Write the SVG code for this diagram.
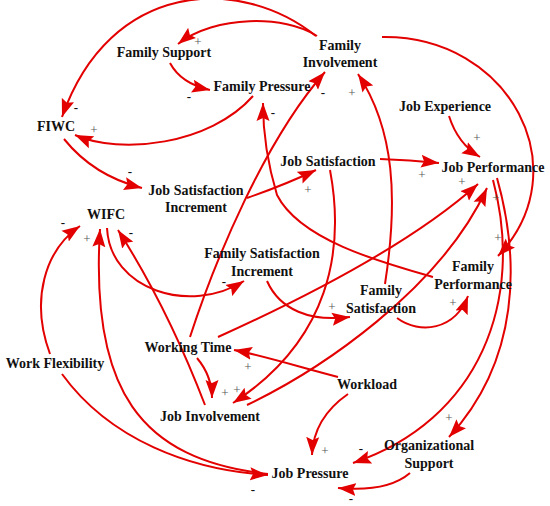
<svg xmlns="http://www.w3.org/2000/svg" width="550" height="506" viewBox="0 0 550 506">
<defs>
<marker id="ah" markerUnits="userSpaceOnUse" markerWidth="19" markerHeight="14" refX="18" refY="7" orient="auto">
<path d="M0,0.5 L18,7 L0,13.5 L3,7 z" fill="#e30000"/>
</marker>
<style>
.e{fill:none;stroke:#e30000;stroke-width:2;marker-end:url(#ah)}
.n{font-family:"Liberation Serif","Times New Roman",serif;font-weight:bold;font-size:14px;fill:#111;text-anchor:middle}
.p{font-family:"Liberation Serif","Times New Roman",serif;font-size:13px;fill:#555;text-anchor:middle}
.m{font-family:"Liberation Serif","Times New Roman",serif;font-size:13px;font-weight:bold;fill:#111;text-anchor:middle}
</style>
</defs>
<rect width="550" height="506" fill="#fff"/>
<g id="connectors">
<path class="e" d="M317,36 C285,15 215,15 178,44"/>
<path class="e" d="M316,36 C240,-25 110,-20 62,117"/>
<path class="e" d="M170,63 C178,78 192,86 210,90"/>
<path class="e" d="M253,96 C210,145 120,155 75,135"/>
<path class="e" d="M64,139 C85,165 110,180 142,188"/>
<path class="e" d="M247,198 C270,190 295,180 316,170"/>
<path class="e" d="M380,159 Q410,160 439,163"/>
<path class="e" d="M449,116 C455,135 465,148 480,157"/>
<path class="e" d="M382,37 C510,35 580,170 498,256"/>
<path class="e" d="M385,284 C398,200 395,130 358,74"/>
<path class="e" d="M433,277 C380,262 300,240 277,195 C268,165 263,135 263,103"/>
<path class="e" d="M190,337 C215,260 265,140 325,72"/>
<path class="e" d="M197,358 C207,370 212,385 212,398"/>
<path class="e" d="M338,377 C300,367 260,355 234,350"/>
<path class="e" d="M330,170 C345,250 330,340 233,403"/>
<path class="e" d="M247,405 C320,370 440,290 487,188"/>
<path class="e" d="M218,337 C300,300 410,245 478,184"/>
<path class="e" d="M107,228 C110,290 190,315 244,281"/>
<path class="e" d="M205,405 C180,340 150,280 118,230"/>
<path class="e" d="M50,354 C30,300 45,250 80,226"/>
<path class="e" d="M268,474 C140,460 90,390 100,229"/>
<path class="e" d="M62,374 C110,440 190,470 268,475"/>
<path class="e" d="M348,394 C325,410 313,430 312,455"/>
<path class="e" d="M410,473 C390,490 360,490 338,488"/>
<path class="e" d="M493,180 C525,300 480,420 353,463"/>
<path class="e" d="M497,178 C520,260 520,360 449,437"/>
<path class="e" d="M267,281 C280,310 310,322 350,317"/>
<path class="e" d="M397,318 C420,335 455,330 468,296"/>
</g>
<g id="polarities">
<text class="p" x="198" y="46">+</text>
<text class="m" x="76" y="112">-</text>
<text class="m" x="189" y="101">-</text>
<text class="p" x="94" y="134">+</text>
<text class="m" x="130" y="176">-</text>
<text class="p" x="308" y="194">+</text>
<text class="p" x="422" y="179">+</text>
<text class="p" x="477" y="142">+</text>
<text class="p" x="462" y="186">+</text>
<text class="p" x="496" y="202">+</text>
<text class="p" x="498" y="242">+</text>
<text class="m" x="323" y="97">-</text>
<text class="p" x="352" y="97">+</text>
<text class="m" x="273" y="117">-</text>
<text class="m" x="63" y="227">-</text>
<text class="p" x="87" y="243">+</text>
<text class="m" x="131" y="237">-</text>
<text class="m" x="224" y="286">-</text>
<text class="p" x="332" y="311">+</text>
<text class="p" x="453" y="307">+</text>
<text class="p" x="248" y="371">+</text>
<text class="p" x="225" y="397">+</text>
<text class="p" x="237" y="394">+</text>
<text class="p" x="325" y="455">+</text>
<text class="m" x="361" y="453">-</text>
<text class="p" x="449" y="422">+</text>
<text class="m" x="253" y="494">-</text>
<text class="m" x="351" y="503">-</text>
</g>
<g id="family-support"><text class="n" x="164" y="57">Family Support</text></g>
<g id="family-involvement"><text class="n" x="340" y="50">Family</text><text class="n" x="340" y="67">Involvement</text></g>
<g id="family-pressure"><text class="n" x="262" y="91">Family Pressure</text></g>
<g id="fiwc"><text class="n" x="56" y="131">FIWC</text></g>
<g id="job-experience"><text class="n" x="445" y="111">Job Experience</text></g>
<g id="job-satisfaction"><text class="n" x="328" y="166">Job Satisfaction</text></g>
<g id="job-performance"><text class="n" x="493" y="172">Job Performance</text></g>
<g id="job-satisfaction-increment"><text class="n" x="196" y="195">Job Satisfaction</text><text class="n" x="196" y="212">Increment</text></g>
<g id="wifc"><text class="n" x="106" y="219">WIFC</text></g>
<g id="family-satisfaction-increment"><text class="n" x="262" y="258">Family Satisfaction</text><text class="n" x="262" y="276">Increment</text></g>
<g id="family-satisfaction"><text class="n" x="381" y="295">Family</text><text class="n" x="381" y="313">Satisfaction</text></g>
<g id="family-performance"><text class="n" x="473" y="271">Family</text><text class="n" x="473" y="289">Performance</text></g>
<g id="working-time"><text class="n" x="188" y="352">Working Time</text></g>
<g id="work-flexibility"><text class="n" x="55" y="368">Work Flexibility</text></g>
<g id="workload"><text class="n" x="367" y="389">Workload</text></g>
<g id="job-involvement"><text class="n" x="210" y="421">Job Involvement</text></g>
<g id="organizational-support"><text class="n" x="429" y="450">Organizational</text><text class="n" x="429" y="468">Support</text></g>
<g id="job-pressure"><text class="n" x="310" y="478">Job Pressure</text></g>
</svg>
